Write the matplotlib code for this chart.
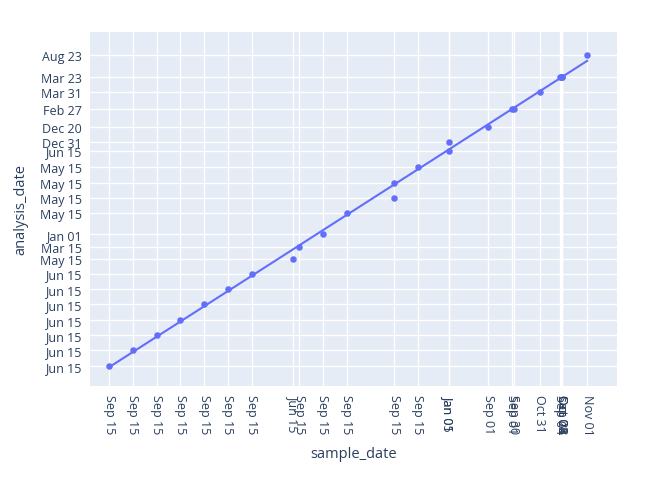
import matplotlib
matplotlib.use("Agg")
import matplotlib.pyplot as plt
import matplotlib.dates as mdates
import numpy as np
from datetime import datetime

sample_date = ["2000-09-15","2001-09-15","2002-09-15","2003-09-15","2004-09-15","2005-09-15","2006-09-15",
               "2008-06-15","2008-09-15","2009-09-15","2010-09-15","2012-09-15","2012-09-15","2013-09-15",
               "2015-01-01","2015-01-05","2016-09-01","2017-09-01","2017-09-30","2018-10-31",
               "2019-09-04","2019-09-28","2019-10-04","2019-10-08","2020-11-01"]
analysis_date = ["2001-06-15","2002-06-15","2003-06-15","2004-06-15","2005-06-15","2006-06-15","2007-06-15",
                 "2008-05-15","2009-03-15","2010-01-01","2011-05-15","2012-05-15","2013-05-15","2014-05-15",
                 "2015-06-15","2015-12-31","2016-12-20","2018-02-27","2018-02-27","2019-03-31",
                 "2020-03-23","2020-03-23","2020-03-23","2020-03-23","2021-08-23"]

xs = mdates.date2num([datetime.strptime(s, "%Y-%m-%d") for s in sample_date])
ys = mdates.date2num([datetime.strptime(s, "%Y-%m-%d") for s in analysis_date])

plt.rcParams['font.family'] = ['Open Sans', 'DejaVu Sans']
fig = plt.figure(figsize=(6.54, 4.81), dpi=100)
ax = fig.add_axes([90/654, 1-387/481, (617-90)/654, (387-33)/481])
ax.set_facecolor("#E5ECF6")
for s in ax.spines.values():
    s.set_visible(False)

c = "#636EFA"
ax.scatter(xs, ys, s=22, color=c, zorder=3, linewidths=0)
k, b = np.polyfit(xs, ys, 1)
xl = np.array([xs.min(), xs.max()])
ax.plot(xl, k*xl + b, color=c, lw=1.5, zorder=2)

ax.set_xticks(np.unique(xs))
ax.set_yticks(np.unique(ys))
ax.xaxis.set_major_formatter(mdates.DateFormatter("%b %d"))
ax.yaxis.set_major_formatter(mdates.DateFormatter("%b %d"))
ax.tick_params(axis="x", rotation=-90)
ax.tick_params(length=0, labelsize=9, labelcolor="#2a3f5f", pad=6)
ax.grid(True, color="white", lw=1)
ax.set_axisbelow(True)
ax.set_xlim(xs.min() - 0.04*(xs.max()-xs.min()), xs.max() + 0.0625*(xs.max()-xs.min()))
ax.set_ylim(ys.min() - 0.065*(ys.max()-ys.min()), ys.max() + 0.075*(ys.max()-ys.min()))
ax.set_xlabel("sample_date", fontsize=10.5, color="#2a3f5f", labelpad=8)
ax.set_ylabel("analysis_date", fontsize=10.5, color="#2a3f5f", labelpad=8)
fig.savefig("out.png", dpi=100)
